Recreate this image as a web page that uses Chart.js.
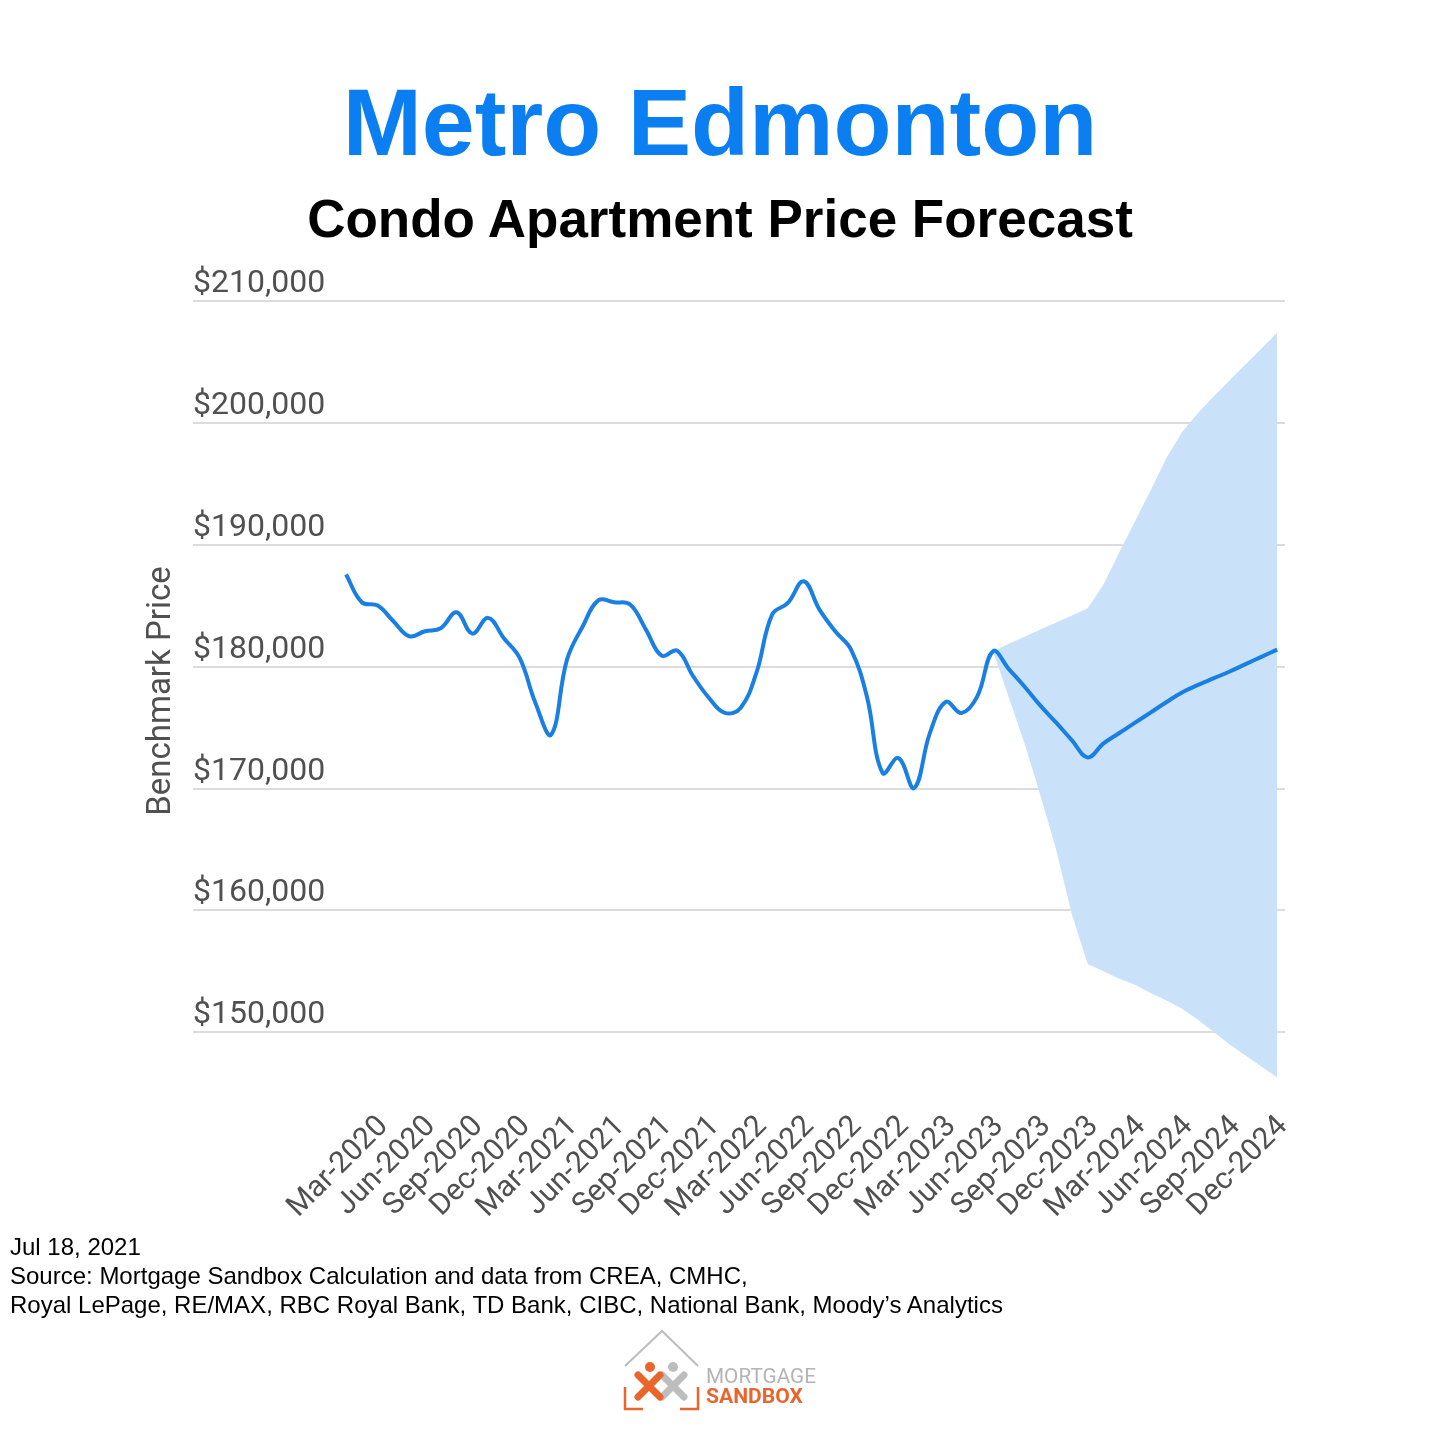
<!DOCTYPE html>
<html lang="en">
<head>
<meta charset="UTF-8">
<title>Metro Edmonton Condo Apartment Price Forecast</title>
<style>
  body { margin: 0; background: #fff; }
  #wrap { position: relative; width: 1440px; height: 1440px; overflow: hidden; }
  .t1 { position: absolute; left: 0; width: 1440px; top: 74px; text-align: center;
        font: bold 95px/96px "Liberation Sans", Arial, sans-serif; color: #0b7ff2; }
  .t2 { position: absolute; left: 0; width: 1440px; top: 192px; text-align: center;
        font: bold 53px/54px "Liberation Sans", Arial, sans-serif; color: #000; }
  .foot { position: absolute; left: 10px; top: 1232px;
          font: 24px/29px "Liberation Sans", Arial, sans-serif; color: #000; }
  #chart { position: absolute; left: 0; top: 0; }
  #logo { position: absolute; left: 0; top: 0; }
</style>
</head>
<body>
<div id="wrap">
  <div class="t1">Metro Edmonton</div>
  <div class="t2">Condo Apartment Price Forecast</div>
  <canvas id="chart" width="1440" height="1440"></canvas>
  <div class="foot">Jul 18, 2021<br>Source: Mortgage Sandbox Calculation and data from CREA, CMHC,<br>Royal LePage, RE/MAX, RBC Royal Bank, TD Bank, CIBC, National Bank, Moody’s Analytics</div>
  <svg id="logo" width="1440" height="1440">
    <polyline points="625,1366 662,1331 698,1366" fill="none" stroke="#bdbdbd" stroke-width="2"/>
    <polyline points="625,1387 625,1409 643,1409" fill="none" stroke="#e8662c" stroke-width="2.5"/>
    <polyline points="698,1387 698,1409 680,1409" fill="none" stroke="#e8662c" stroke-width="2.5"/>
    <circle cx="673" cy="1367" r="5" fill="#bdbdbd"/>
    <path d="M662,1375 L684,1397 M684,1375 L662,1397" stroke="#bdbdbd" stroke-width="7" stroke-linecap="round"/>
    <circle cx="650" cy="1367" r="5" fill="#e8662c"/>
    <path d="M638,1375 L660,1397 M660,1375 L638,1397" stroke="#e8662c" stroke-width="7" stroke-linecap="round"/>
    <text x="706" y="1383" textLength="110" lengthAdjust="spacingAndGlyphs" font-family="Roboto" font-size="21" fill="#b4b4b4">MORTGAGE</text>
    <text x="706" y="1403" textLength="97" lengthAdjust="spacingAndGlyphs" font-family="Roboto" font-weight="bold" font-size="21" fill="#e8662c">SANDBOX</text>
  </svg>
</div>

<script src="https://cdn.jsdelivr.net/npm/chart.js@4.4.1/dist/chart.umd.min.js"></script>
<script>
// monthly benchmark price, Jan-2020 .. Jun-2023 (actual)
const actual = [187550, 185280, 185010, 183720, 182490, 182900, 183150, 184460, 182710, 184000,
                182330, 180710, 177020, 174420, 180570, 183310, 185450, 185280, 185090, 183040,
                180900, 181310, 179200, 177430, 176200, 176610, 179480, 184270, 185230, 187000,
                184680, 182900, 181400, 177560, 171270, 172500, 170040, 174560, 177100, 176200,
                177560, 181260];
// forecast, Jul-2023 .. Dec-2024
const forecast = [179800, 178350, 176800, 175400, 173950, 172550, 173700, 174550, 175400, 176250,
                  177100, 177900, 178500, 179050, 179600, 180200, 180800, 181400];
// forecast range, Jun-2023 .. Dec-2024
const upper = [181260, 181880, 182460, 183040, 183620, 184200, 184800, 186740, 189380, 191940,
               194500, 197150, 199300, 200830, 202180, 203520, 204810, 206100, 207400];
const lower = [181260, 177470, 173680, 169450, 164980, 159650, 155600, 155000, 154400, 153900,
               153200, 152600, 151900, 151000, 150000, 149000, 148100, 147200, 146300];

const xTickLabels = ['Mar-2020', 'Jun-2020', 'Sep-2020', 'Dec-2020', 'Mar-2021', 'Jun-2021', 'Sep-2021',
                     'Dec-2021', 'Mar-2022', 'Jun-2022', 'Sep-2022', 'Dec-2022', 'Mar-2023', 'Jun-2023',
                     'Sep-2023', 'Dec-2023', 'Mar-2024', 'Jun-2024', 'Sep-2024', 'Dec-2024'];
const yTicks = [150000, 160000, 170000, 180000, 190000, 200000, 210000];

// month names for the x index (0 = Jan-2020)
const monNames = ['Jan', 'Feb', 'Mar', 'Apr', 'May', 'Jun', 'Jul', 'Aug', 'Sep', 'Oct', 'Nov', 'Dec'];
const months = [];
for (let y = 2020; y <= 2024; y++) monNames.forEach(m => months.push(m + '-' + y));

const series = actual.concat(forecast);
const rangeStart = actual.length - 1;

const lineData = series.map((v, i) => ({ x: i, y: v }));
const upperData = upper.map((v, i) => ({ x: rangeStart + i, y: v }));
const lowerData = lower.map((v, i) => ({ x: rangeStart + i, y: v }));

const grey = '#505050';
const ctx = document.getElementById('chart').getContext('2d');
const chart = new Chart(ctx, {
  type: 'line',
  data: {
    datasets: [
      { label: 'Benchmark Price', data: lineData, borderColor: '#1a7fe3', borderWidth: 4,
        pointRadius: 0, tension: 0.4, fill: false, order: 0 },
      { label: 'High', data: upperData, borderWidth: 0, borderColor: 'rgba(0,0,0,0)',
        backgroundColor: '#c9e2fa', pointRadius: 0, fill: '+1', order: 1 },
      { label: 'Low', data: lowerData, borderWidth: 0, borderColor: 'rgba(0,0,0,0)',
        pointRadius: 0, fill: false, order: 2 }
    ]
  },
  options: {
    responsive: false,
    animation: false,
    layout: { padding: { left: 0, right: 155, top: 301, bottom: 0 } },
    plugins: { legend: { display: false }, tooltip: { enabled: false } },
    scales: {
      x: {
        type: 'linear', min: -9.7, max: 59.5,
        grid: { display: false }, border: { display: false },
        afterBuildTicks: a => { a.ticks = xTickLabels.map(l => ({ value: months.indexOf(l) })); },
        afterFit: a => { a.height = 1440 - 1081; },
        ticks: {
          autoSkip: false, minRotation: 45, maxRotation: 45, padding: 20, labelOffset: 6,
          color: grey, font: { family: 'Roboto', size: 30 },
          callback: v => months[v]
        }
      },
      y: {
        min: 146000, max: 210000,
        afterBuildTicks: a => { a.ticks = yTicks.map(v => ({ value: v })); },
        afterFit: a => { a.width = 193; },
        grid: { color: '#dcdcdc', lineWidth: 2, drawTicks: false },
        border: { display: false },
        ticks: {
          mirror: true, padding: 0, labelOffset: -17,
          color: grey, font: { family: 'Roboto', size: 32 },
          callback: v => '$' + v.toLocaleString('en-US')
        },
        title: {
          display: true, text: 'Benchmark Price', color: grey,
          font: { family: 'Roboto', size: 33 }, padding: { top: 142, bottom: 0 }
        }
      }
    }
  }
});
</script>
</body>
</html>
